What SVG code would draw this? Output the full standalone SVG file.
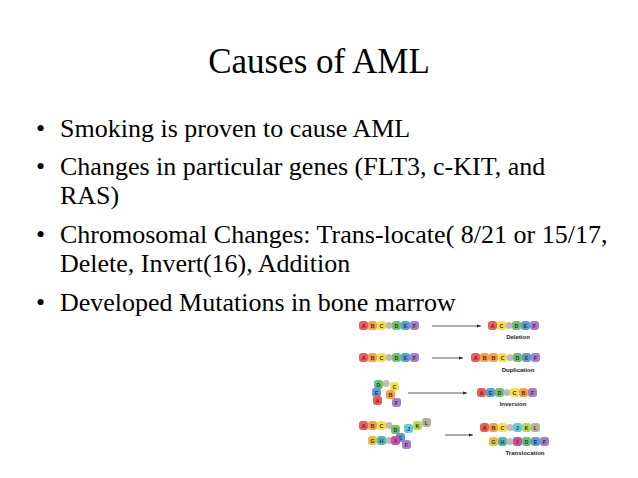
<svg xmlns="http://www.w3.org/2000/svg" width="638" height="478" viewBox="0 0 638 478">
<style>
.t{font-family:"Liberation Serif",serif;fill:#000}
.l{font-family:"Liberation Sans",sans-serif;font-size:5.5px;font-weight:bold;fill:#333;text-anchor:middle}
.c{font-family:"Liberation Sans",sans-serif;font-size:6px;font-weight:bold;fill:#222;text-anchor:middle}
.a{fill:#f05a5a}.b{fill:#f7a040}.cc{fill:#f5e04a}.d{fill:#6cc26c}.e{fill:#5b9bd8}.f{fill:#a77cc8}.g{fill:#e8c040}.h{fill:#4bb8b0}.i{fill:#c050a0}.j{fill:#60c8e8}.k{fill:#b8d850}.ll{fill:#b8b0a0}.cen{fill:#bbb}
.ar{stroke:#333;stroke-width:0.8;fill:none;marker-end:url(#m)}
</style>
<defs>
<marker id="m" markerWidth="6" markerHeight="6" refX="5" refY="3" orient="auto"><path d="M0,1 L5,3 L0,5z" fill="#222"/></marker>
<g id="A"><rect width="9" height="9" rx="3" class="a"/><text x="4.5" y="6.5" class="l">A</text></g>
<g id="B"><rect width="9" height="9" rx="3" class="b"/><text x="4.5" y="6.5" class="l">B</text></g>
<g id="C"><rect width="9" height="9" rx="3" class="cc"/><text x="4.5" y="6.5" class="l">C</text></g>
<g id="D"><rect width="9" height="9" rx="3" class="d"/><text x="4.5" y="6.5" class="l">D</text></g>
<g id="E"><rect width="9" height="9" rx="3" class="e"/><text x="4.5" y="6.5" class="l">E</text></g>
<g id="F"><rect width="9" height="9" rx="3" class="f"/><text x="4.5" y="6.5" class="l">F</text></g>
<g id="G"><rect width="9" height="9" rx="3" class="g"/><text x="4.5" y="6.5" class="l">G</text></g>
<g id="H"><rect width="9" height="9" rx="3" class="h"/><text x="4.5" y="6.5" class="l">H</text></g>
<g id="I"><rect width="9" height="9" rx="3" class="i"/><text x="4.5" y="6.5" class="l">I</text></g>
<g id="J"><rect width="9" height="9" rx="3" class="j"/><text x="4.5" y="6.5" class="l">J</text></g>
<g id="K"><rect width="9" height="9" rx="3" class="k"/><text x="4.5" y="6.5" class="l">K</text></g>
<g id="L"><rect width="9" height="9" rx="3" class="ll"/><text x="4.5" y="6.5" class="l">L</text></g>
<circle id="O" cx="3" cy="4.5" r="3.5" class="cen"/>
</defs>
<rect width="638" height="478" fill="#fff"/>
<g id="title"><text x="319" y="73" font-size="35" text-anchor="middle" class="t">Causes of AML</text></g>
<g id="bullets" font-size="26" class="t">
<text x="36" y="137">•</text><text x="60" y="137">Smoking is proven to cause AML</text>
<text x="36" y="175">•</text><text x="60" y="175"> Changes in particular genes (FLT3, c-KIT, and</text>
<text x="60" y="204">RAS)</text>
<text x="36" y="243">•</text><text x="60" y="243">Chromosomal Changes: Trans-locate( 8/21 or 15/17,</text>
<text x="60" y="272">Delete, Invert(16), Addition</text>
<text x="36" y="311">•</text><text x="60" y="311">Developed Mutations in bone marrow</text>
</g>
<g id="connectors">
<line x1="432" y1="326" x2="481" y2="326" class="ar"/>
<line x1="432" y1="358" x2="463" y2="358" class="ar"/>
<line x1="408" y1="393" x2="467" y2="393" class="ar"/>
<line x1="445" y1="435" x2="473" y2="435" class="ar"/>
</g>
<g id="deletion">
<g transform="translate(359,321)"><use href="#A"/><use href="#B" x="9"/><use href="#C" x="18"/><use href="#O" x="27"/><use href="#D" x="33"/><use href="#E" x="42"/><use href="#F" x="51"/></g>
<g transform="translate(488,321)"><use href="#A"/><use href="#C" x="9"/><use href="#O" x="18"/><use href="#D" x="24"/><use href="#E" x="33"/><use href="#F" x="42"/></g>
<text x="518" y="339" class="c">Deletion</text>
</g>
<g id="duplication">
<g transform="translate(359,353)"><use href="#A"/><use href="#B" x="9"/><use href="#C" x="18"/><use href="#O" x="27"/><use href="#D" x="33"/><use href="#E" x="42"/><use href="#F" x="51"/></g>
<g transform="translate(471,353)"><use href="#A"/><use href="#B" x="9"/><use href="#B" x="18"/><use href="#C" x="27"/><use href="#O" x="36"/><use href="#D" x="42"/><use href="#E" x="51"/><use href="#F" x="60"/></g>
<text x="518" y="372" class="c">Duplication</text>
</g>
<g id="inversion">
<use href="#D" x="374" y="380"/><use href="#O" x="383" y="379"/><use href="#C" x="390" y="382"/>
<use href="#E" x="372" y="388"/><use href="#B" x="386" y="390"/>
<use href="#A" x="373" y="396"/><use href="#F" x="392" y="398"/>
<g transform="translate(477,388)"><use href="#A"/><use href="#E" x="9"/><use href="#D" x="18"/><use href="#O" x="27"/><use href="#C" x="33"/><use href="#B" x="42"/><use href="#F" x="51"/></g>
<text x="513" y="406" class="c">Inversion</text>
</g>
<g id="translocation">
<g transform="translate(359,421)"><use href="#A"/><use href="#B" x="9"/><use href="#C" x="18"/><use href="#O" x="27"/></g>
<use href="#D" x="391" y="425"/><use href="#E" x="396" y="433"/><use href="#F" x="402" y="440"/>
<use href="#J" x="404" y="424"/><use href="#K" x="413" y="421"/><use href="#L" x="422" y="418"/>
<g transform="translate(368,436)"><use href="#G"/><use href="#H" x="9"/><use href="#O" x="18"/><use href="#I" x="23"/></g>
<g transform="translate(480,423)"><use href="#A"/><use href="#B" x="9"/><use href="#C" x="18"/><use href="#O" x="27"/><use href="#J" x="33"/><use href="#K" x="42"/><use href="#L" x="51"/></g>
<g transform="translate(489,437)"><use href="#G"/><use href="#H" x="9"/><use href="#O" x="18"/><use href="#I" x="24"/><use href="#D" x="33"/><use href="#E" x="42"/><use href="#F" x="51"/></g>
<text x="525" y="455" class="c">Translocation</text>
</g>
</svg>
